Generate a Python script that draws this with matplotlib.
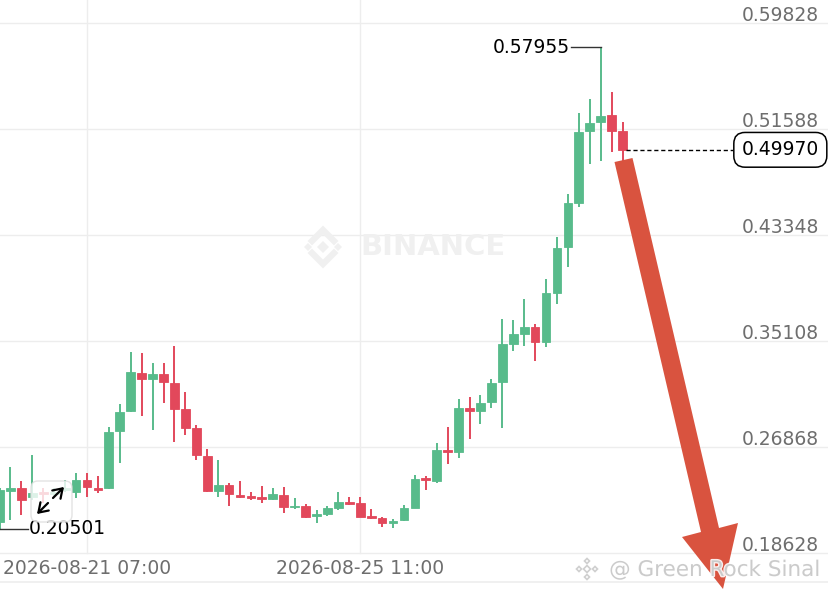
import matplotlib
matplotlib.use("Agg")
import matplotlib.pyplot as plt
import matplotlib.transforms as mtransforms
from matplotlib.patches import Polygon, FancyBboxPatch
import matplotlib.patheffects as pe
import numpy as np

# 4h candles, index 0 = 2026-08-21 07:00
idx = np.arange(-8, 50)
opens = [0.2104, 0.2345, 0.2368, 0.2298, 0.2337, 0.2321, 0.2353, 0.2337,
         0.2430, 0.2368, 0.2368, 0.2811, 0.2967, 0.3262, 0.3215, 0.3254,
         0.3184, 0.2982, 0.2835, 0.2617, 0.2345, 0.2391, 0.2314, 0.2306,
         0.2298, 0.2283, 0.2314, 0.2220, 0.2228, 0.2150, 0.2166, 0.2213,
         0.2259, 0.2252, 0.2143, 0.2135, 0.2096, 0.2119, 0.2213, 0.2446,
         0.2423, 0.2664, 0.2648, 0.2990, 0.2967, 0.3037, 0.3192, 0.3488,
         0.3565, 0.3620, 0.3503, 0.3884, 0.4242, 0.4584, 0.5143, 0.5213,
         0.5268, 0.5143]
highs = [0.2368, 0.2531, 0.2423, 0.2625, 0.2368, 0.2368, 0.2430, 0.2485,
         0.2485, 0.2461, 0.2842, 0.3021, 0.3425, 0.3418, 0.3340, 0.3340,
         0.3472, 0.3114, 0.2858, 0.2671, 0.2586, 0.2407, 0.2423, 0.2337,
         0.2384, 0.2368, 0.2376, 0.2290, 0.2244, 0.2197, 0.2228, 0.2337,
         0.2298, 0.2298, 0.2205, 0.2143, 0.2127, 0.2236, 0.2469, 0.2461,
         0.2718, 0.2842, 0.3060, 0.3076, 0.3091, 0.3215, 0.3682, 0.3674,
         0.3837, 0.3643, 0.3993, 0.4319, 0.4654, 0.5283, 0.5392, 0.57955,
         0.5446, 0.5213]
lows = [0.20501, 0.2119, 0.2158, 0.2275, 0.2252, 0.2298, 0.2337, 0.2290,
        0.2298, 0.2329, 0.2360, 0.2562, 0.2959, 0.2928, 0.2819, 0.3029,
        0.2726, 0.2780, 0.2586, 0.2337, 0.2298, 0.2228, 0.2290, 0.2275,
        0.2252, 0.2275, 0.2174, 0.2205, 0.2135, 0.2096, 0.2150, 0.2197,
        0.2236, 0.2140, 0.2127, 0.2065, 0.2057, 0.2112, 0.2209, 0.2353,
        0.2407, 0.2555, 0.2601, 0.2749, 0.2866, 0.2990, 0.2835, 0.3433,
        0.3472, 0.3355, 0.3464, 0.3798, 0.4086, 0.4553, 0.4887, 0.4910,
        0.4980, 0.4902]
closes = [0.2353, 0.2368, 0.2275, 0.2329, 0.2321, 0.2337, 0.2360, 0.2430,
          0.2376, 0.2353, 0.2803, 0.2959, 0.3270, 0.3215, 0.3254, 0.3192,
          0.2982, 0.2835, 0.2625, 0.2345, 0.2391, 0.2321, 0.2298, 0.2290,
          0.2283, 0.2321, 0.2220, 0.2228, 0.2143, 0.2166, 0.2213, 0.2259,
          0.2244, 0.2145, 0.2135, 0.2096, 0.2112, 0.2213, 0.2438, 0.2430,
          0.2664, 0.2648, 0.2990, 0.2967, 0.3029, 0.3184, 0.3488, 0.3565,
          0.3620, 0.3503, 0.3884, 0.4234, 0.4584, 0.5136, 0.5205, 0.5260,
          0.5143, 0.49970]

price_ticks = [0.59828, 0.51588, 0.43348, 0.35108, 0.26868, 0.18628]
time_ticks = [0, 25]
time_labels = ["2026-08-21 07:00", "2026-08-25 11:00"]
last_price = 0.49970
high_price = 0.57955
low_price = 0.20501

GREEN = "#58bb8b"
RED = "#e2485b"
GRID = "#ededed"
LABEL = "#6e6e6e"

W, H = 829, 593
fig = plt.figure(figsize=(W / 100, H / 100), dpi=100)
ax = fig.add_axes([0, 0, 1, 1])
ax.set_xlim(-7.96, 67.89)
ax.set_ylim(0.15519, 0.61616)
ax.axis("off")

# pixel helper for decorations
px = mtransforms.Affine2D().scale(1 / W, -1 / H).translate(0, 1) + fig.transFigure

# grid
for p in price_ticks:
    ax.axhline(p, color=GRID, lw=1, zorder=0)
for t in time_ticks:
    ax.axvline(t, ymin=1 - 553 / H, ymax=1, color=GRID, lw=1, zorder=0)
ax.plot([0, 1], [1 - 582 / H] * 2, transform=ax.transAxes, color=GRID, lw=1.2, zorder=0)

# watermark
ax.text(360, 247, "BINANCE", transform=px, fontsize=21, fontweight="bold",
        color="#f0f0f0", ha="left", va="center", zorder=0.5)
cx, cy = 323, 247
def diamond(x, y, r, **kw):
    return Polygon([(x - r, y), (x, y - r), (x + r, y), (x, y + r)], closed=True,
                   transform=px, **kw)
ax.add_patch(diamond(cx, cy, 6, fc="#f0f0f0", ec="none", zorder=0.5))
ax.add_patch(diamond(cx - 15, cy, 4, fc="#f0f0f0", ec="none", zorder=0.5))
ax.add_patch(diamond(cx + 15, cy, 4, fc="#f0f0f0", ec="none", zorder=0.5))
for s in (-1, 1):
    ax.plot([cx - 11, cx, cx + 11], [cy + s * 6, cy + s * 17, cy + s * 6],
            transform=px, color="#f0f0f0", lw=4.5, solid_joinstyle="miter", zorder=0.5)

# candles
opens_a, closes_a = np.array(opens), np.array(closes)
colors = [GREEN if c >= o else RED for o, c in zip(opens, closes)]
ax.vlines(idx, lows, highs, colors=colors, lw=1.4, zorder=2)
bottoms = np.minimum(opens_a, closes_a)
heights = np.maximum(np.abs(closes_a - opens_a), 0.0012)
ax.bar(idx, heights, bottom=bottoms, width=0.8, color=colors, edgecolor=colors,
       lw=0.6, zorder=3)

# price labels on the right
lab_tr = mtransforms.offset_copy(ax.transData, fig=fig, x=0, y=2, units="dots")
for p in price_ticks:
    ax.text(66.97, p, f"{p:.5f}", transform=lab_tr, ha="right", va="baseline",
            fontsize=13.5, color=LABEL, zorder=4)

# time labels
for t, lab in zip(time_ticks, time_labels):
    ax.text(t, 1 - 569 / H, lab, transform=ax.get_xaxis_transform(), ha="center",
            va="center", fontsize=13.5, color=LABEL, zorder=4)

# last price line and box
ax.plot([49.3, 59.1], [last_price, last_price], color="black", lw=1, ls=(0, (3, 2)), zorder=4)
ax.text(66.97, last_price, f"{last_price:.5f}", ha="right", va="center", fontsize=13.5,
        color="black", zorder=6,
        bbox=dict(boxstyle="round,pad=0.42,rounding_size=0.6", fc="white", ec="black", lw=1.1))

# high / low markers
ax.plot([44.3, 47], [high_price, high_price], color="#333333", lw=1, zorder=4)
ax.text(44.2, high_price, f"{high_price:.5f}", ha="right", va="center", fontsize=13.5,
        color="black", zorder=4)
ax.plot([-7.96, -5.4], [low_price, low_price], color="#333333", lw=1, zorder=4)
ax.text(-5.3, low_price, f"{low_price:.5f}", ha="left", va="center", fontsize=13.5,
        color="black", zorder=4)

# zoom icon
icon = FancyBboxPatch((31, 481), 41, 41, boxstyle="round,pad=0,rounding_size=7",
                      transform=px, fc="white", ec="#dcdcdc", lw=1, alpha=0.8, zorder=5)
ax.add_patch(icon)
head = dict(arrowstyle="->,head_length=0.45,head_width=0.3", color="black", lw=1.6,
            shrinkA=0, shrinkB=0, mutation_scale=14)
ax.annotate("", xy=(37, 514), xytext=(48, 503), xycoords=px, textcoords=px,
            arrowprops=head, zorder=6)
ax.annotate("", xy=(64, 487), xytext=(53, 498), xycoords=px, textcoords=px,
            arrowprops=head, zorder=6)

# big red arrow
arrow_pts = [(614.5, 162), (701, 532), (682, 537), (723, 589),
             (738, 523), (719, 528), (632.5, 158)]
ax.add_patch(Polygon(arrow_pts, closed=True, transform=px, fc="#d9533f", ec="none", zorder=7))

# bottom-right watermark
wm = ax.text(820, 570, "@ Green Rock Sinal", transform=px, ha="right", va="center",
             fontsize=15.5, color="#c6c6c6", alpha=0.9, zorder=8)
wm.set_path_effects([pe.withStroke(linewidth=2, foreground="white")])
lx, ly = 587, 569
for dx, dy, r in [(0, 0, 3.5), (-8, 0, 2.5), (8, 0, 2.5), (0, -8, 2.5), (0, 8, 2.5)]:
    ax.add_patch(diamond(lx + dx, ly + dy, r, fc="none", ec="#cfcfcf", lw=1.2, zorder=8))

fig.savefig("out.png", dpi=100)
